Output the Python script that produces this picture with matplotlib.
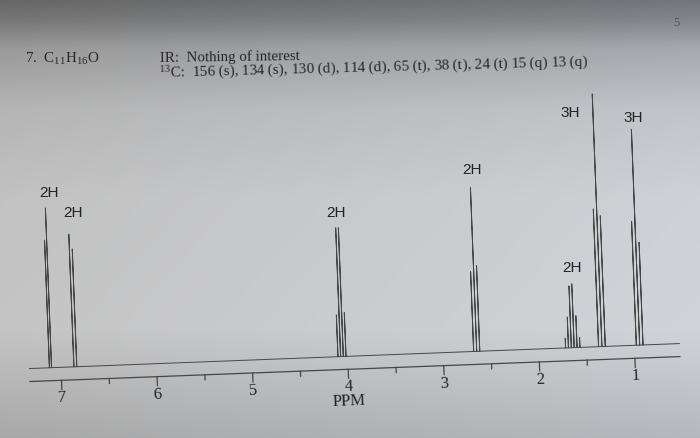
import numpy as np
import matplotlib
matplotlib.use("Agg")
import matplotlib.pyplot as plt
from matplotlib.transforms import Affine2D

plt.rcParams["mathtext.fontset"] = "stix"

# 1H NMR peak list
# centre (ppm), line heights left->right (px above baseline), line spacing (ppm)
peak_ppm = [7.11, 6.85, 4.06, 2.65, 1.645, 1.34, 0.945]
peak_heights = [
    [128, 160],
    [133, 118],
    [42, 129, 129, 44],
    [80, 164, 86],
    [10, 31, 62, 64, 32, 10],
    [138, 253, 131],
    [124, 216, 103],
]
peak_J = [0.022, 0.03, 0.028, 0.032, 0.03, 0.035, 0.035]
peak_labels = ["2H", "2H", "2H", "2H", "2H", "3H", "3H"]
# label offsets from the tallest line top (pixels)
label_dx = [4, 4, 0, 2, 0, -22, 2]
label_dy = [16, 22, 16, 18, 17, -18, 12]

major_ticks = [7, 6, 5, 4, 3, 2, 1]
minor_ticks = [6.5, 5.5, 4.5, 3.5, 2.5, 1.5]

title_left = r"7.  C$_{\mathregular{11}}$H$_{\mathregular{16}}$O"
ir_text = "IR:  Nothing of interest"
c13_text = (r"$^{\mathregular{13}}$C:  156 (s), 134 (s), 130 (d), 114 (d), "
            r"65 (t), 38 (t), 24 (t) 15 (q) 13 (q)")

W, H = 700, 439
fig = plt.figure(figsize=(W / 100, H / 100), dpi=100)

# photographed paper background
yy = np.linspace(0, 1, H)[:, None]
xx = np.linspace(0, 1, W)[None, :]
level = np.interp(yy, [0, 0.05, 0.11, 0.25, 0.45, 0.75, 1.0],
                  [0.43, 0.50, 0.63, 0.74, 0.79, 0.80, 0.69])
level = level + 0.06 * (xx - 0.5)
img = np.dstack([level - 0.01 * xx, level, level + 0.02 * xx])
img = np.clip(img, 0, 1)
bg = fig.add_axes([0, 0, 1, 1])
bg.imshow(img, aspect="auto", extent=(0, W, H, 0))
bg.set_axis_off()

# spectrum axes: 1 y-unit = 1 px, baseline at y = 0
ax = fig.add_axes([0, 0, 1, 1])
ax.patch.set_alpha(0)
ax.set_xlim(4 + 347.7 / 95.64, 4 - 352.3 / 95.64)
ax.set_ylim(-(H - 357), 357)
ax.set_axis_off()
tilt = ax.transData + Affine2D().rotate_deg_around(356, H - 357, 2.2)

ink = "#464646"
left_end, right_end = 7.33, 0.53

# stick spectrum on one baseline
xs, ys = [left_end], [0]
for c, hs, J in zip(peak_ppm, peak_heights, peak_J):
    n = len(hs)
    for k, h in enumerate(hs):
        p = c + ((n - 1) / 2 - k) * J
        xs += [p, p, p]
        ys += [0, h, 0]
xs.append(right_end)
ys.append(0)
ax.plot(xs, ys, color=ink, lw=0.7, transform=tilt, solid_joinstyle="miter")

# integration labels
for c, hs, J, lab, dx, dy in zip(peak_ppm, peak_heights, peak_J, peak_labels,
                                 label_dx, label_dy):
    n = len(hs)
    k = int(np.argmax(hs))
    p = c + ((n - 1) / 2 - k) * J
    ax.annotate(lab, xy=(p, max(hs)), xycoords=tilt,
                xytext=(dx, dy), textcoords="offset pixels",
                ha="center", va="center", fontsize=11,
                family="Liberation Sans", color="#222222")

# ppm axis
axis_y = -13
ax.plot([left_end, right_end], [axis_y, axis_y], color=ink, lw=0.9, transform=tilt)
for t in major_ticks:
    ax.plot([t, t], [axis_y, axis_y - 9], color=ink, lw=0.9, transform=tilt)
    ax.text(t, axis_y - 17, str(t), transform=tilt, rotation=2.2,
            ha="center", va="center", fontsize=12,
            family="Liberation Serif", color="#222222")
for t in minor_ticks:
    ax.plot([t, t], [axis_y, axis_y - 5], color=ink, lw=0.9, transform=tilt)
ax.text(4.0, axis_y - 31, "PPM", transform=tilt, rotation=2.2,
        ha="center", va="center", fontsize=12,
        family="Liberation Serif", color="#222222")


def px(x, y):
    return x / W, 1 - y / H


serif = dict(family="Liberation Serif", color="#262626", fontsize=10.8)
fig.text(*px(25, 63), title_left, ha="left", va="baseline", **serif)
fig.text(*px(160, 62), ir_text, ha="left", va="baseline", rotation=0.8,
         rotation_mode="anchor", **serif)
fig.text(*px(159, 77), c13_text, ha="left", va="baseline", rotation=1.5,
         rotation_mode="anchor", **serif)
fig.text(*px(676, 26), "5", ha="center", va="baseline",
         family="Liberation Serif", fontsize=9, color="#555555")

fig.savefig("out.png", dpi=100)
